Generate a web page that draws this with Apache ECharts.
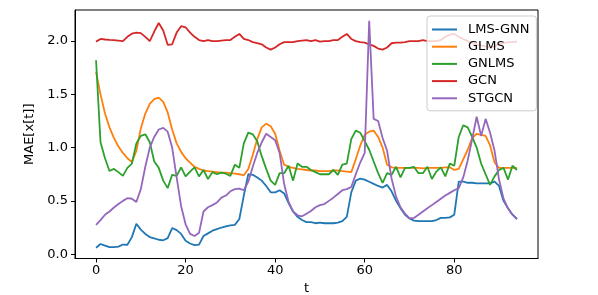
<!DOCTYPE html>
<html>
<head>
<meta charset="utf-8">
<script src="https://cdn.jsdelivr.net/npm/echarts@6/dist/echarts.min.js"></script>
<style>
html,body{margin:0;padding:0;background:#fff;}
#chart{width:598px;height:295px;}
</style>
</head>
<body>
<div id="chart"></div>
<script>
const seriesNames = ['LMS-GNN', 'GLMS', 'GNLMS', 'GCN', 'STGCN'];
const xTicks = [0, 20, 40, 60, 80];
const yTicks = [0, 0.5, 1.0, 1.5, 2.0];

const lmsGnn = [0.06,0.095,0.08,0.065,0.065,0.07,0.09,0.088,0.16,0.285,
 0.23,0.19,0.16,0.147,0.135,0.13,0.15,0.245,0.225,0.19,
 0.125,0.10,0.085,0.09,0.17,0.195,0.22,0.235,0.25,0.26,
 0.27,0.275,0.33,0.55,0.75,0.745,0.72,0.69,0.64,0.58,
 0.58,0.60,0.57,0.48,0.40,0.35,0.32,0.30,0.30,0.29,
 0.295,0.29,0.29,0.29,0.295,0.31,0.35,0.58,0.69,0.71,
 0.70,0.68,0.66,0.64,0.625,0.65,0.59,0.50,0.43,0.37,
 0.335,0.315,0.31,0.31,0.31,0.31,0.32,0.34,0.34,0.345,
 0.37,0.68,0.68,0.67,0.67,0.665,0.665,0.665,0.665,0.68,
 0.64,0.50,0.43,0.37,0.33];

const glms = [1.71,1.50,1.32,1.19,1.09,1.01,0.95,0.90,0.865,0.97,
 1.18,1.32,1.41,1.455,1.47,1.43,1.33,1.17,1.04,0.96,
 0.90,0.86,0.82,0.80,0.785,0.78,0.775,0.77,0.765,0.765,
 0.76,0.755,0.75,0.74,0.80,0.93,1.08,1.19,1.225,1.20,
 1.13,0.97,0.84,0.82,0.81,0.80,0.795,0.79,0.785,0.785,
 0.78,0.78,0.78,0.785,0.785,0.78,0.775,0.77,0.89,1.02,
 1.12,1.15,1.16,1.10,1.0,0.84,0.815,0.81,0.81,0.81,
 0.81,0.81,0.81,0.805,0.81,0.81,0.81,0.81,0.815,0.815,
 0.79,0.80,0.89,0.98,1.09,1.13,1.12,1.11,1.02,0.86,
 0.81,0.81,0.81,0.81,0.81];

const gnlms = [1.82,1.05,0.90,0.78,0.80,0.77,0.735,0.81,0.85,1.04,
 1.11,1.125,1.05,0.87,0.81,0.69,0.62,0.745,0.735,0.815,
 0.73,0.775,0.815,0.73,0.79,0.705,0.77,0.75,0.765,0.755,
 0.735,0.84,0.81,1.04,1.14,1.125,1.06,0.92,0.80,0.69,
 0.65,0.76,0.76,0.83,0.69,0.85,0.82,0.82,0.79,0.77,
 0.75,0.75,0.75,0.79,0.745,0.84,0.85,1.08,1.16,1.14,
 1.06,0.98,0.87,0.76,0.67,0.76,0.745,0.82,0.72,0.81,
 0.81,0.82,0.76,0.76,0.82,0.705,0.775,0.815,0.73,0.85,
 0.83,1.10,1.21,1.19,1.10,1.0,0.85,0.75,0.65,0.73,
 0.79,0.81,0.70,0.83,0.79];

const gcn = [1.995,2.02,2.015,2.012,2.01,2.005,2.0,2.04,2.07,2.08,
 2.075,2.04,2.0,2.09,2.17,2.1,1.965,1.97,2.08,2.14,
 2.13,2.08,2.04,2.01,2.0,2.01,2.0,2.0,2.005,2.01,
 2.01,2.04,2.067,2.02,2.01,1.99,1.98,1.97,1.94,1.92,
 1.94,1.97,1.99,1.99,1.99,2.0,2.005,2.01,2.0,2.01,
 1.995,2.0,2.0,2.01,2.01,2.04,2.067,2.02,2.0,1.99,
 1.985,1.97,1.955,1.93,1.92,1.94,1.98,1.985,1.985,1.99,
 2.0,2.0,2.0,2.01,2.0,2.0,2.0,2.01,2.04,2.06,
 2.067,2.04,2.02,2.0,1.98,1.97,1.96,1.95,1.94,1.95,
 1.97,1.98,1.99,1.99,1.995];

const stgcn = [0.275,0.32,0.37,0.40,0.4375,0.47,0.50,0.525,0.52,0.49,
 0.61,0.82,1.0,1.10,1.17,1.185,1.15,1.0,0.72,0.45,
 0.28,0.19,0.17,0.20,0.40,0.44,0.46,0.485,0.53,0.55,
 0.59,0.61,0.615,0.60,0.68,0.82,0.95,1.05,1.13,1.10,
 1.07,0.95,0.66,0.49,0.40,0.365,0.355,0.38,0.405,0.44,
 0.46,0.47,0.50,0.53,0.565,0.60,0.61,0.63,0.75,0.86,
 0.95,2.19,1.27,1.25,1.09,0.97,0.71,0.54,0.44,0.38,
 0.335,0.34,0.37,0.40,0.43,0.46,0.49,0.52,0.55,0.575,
 0.60,0.62,0.72,0.88,1.08,1.29,1.11,1.27,1.14,0.97,
 0.70,0.52,0.43,0.37,0.33];

const colors = ['#1f77b4', '#ff7f0e', '#2ca02c', '#d62728', '#9467bd'];
const allData = [lmsGnn, glms, gnlms, gcn, stgcn];

const chart = echarts.init(document.getElementById('chart'), null, {renderer: 'canvas'});
const FONT = 'DejaVu Sans';

const option = {
  animation: false,
  textStyle: {fontFamily: FONT},
  grid: {left: 75, top: 10, width: 463, height: 248.5, show: true, borderColor: '#000', borderWidth: 1,
    backgroundColor: 'transparent', outerBoundsMode: 'none', containLabel: false},
  legend: {
    z: 20,
    orient: 'vertical',
    left: 427, top: 16,
    padding: [7, 7, 6, 5],
    itemWidth: 25, itemHeight: 2, itemGap: 4.2,
    icon: 'rect',
    backgroundColor: 'rgba(255,255,255,0.8)',
    borderColor: '#cccccc', borderWidth: 1, borderRadius: 3,
    textStyle: {fontFamily: FONT, fontSize: 13, color: '#000', padding: [0, 0, 0, 6]},
    data: seriesNames
  },
  xAxis: {
    type: 'value', min: -4.7, max: 98.7,
    name: 't', nameLocation: 'middle', nameGap: 21,
    nameTextStyle: {fontFamily: FONT, fontSize: 13, color: '#000'},
    axisLine: {show: true, onZero: false, lineStyle: {color: '#000', width: 1}},
    axisTick: {show: true, length: 4, lineStyle: {color: '#000'}, customValues: xTicks},
    axisLabel: {fontFamily: FONT, fontSize: 13, color: '#000', margin: 6, customValues: xTicks},
    splitLine: {show: false}
  },
  yAxis: {
    type: 'value', min: -0.041, max: 2.292,
    name: 'MAE[x[t]]', nameLocation: 'middle', nameGap: 38, nameRotate: 90,
    nameTextStyle: {fontFamily: FONT, fontSize: 13, color: '#000'},
    axisLine: {show: true, onZero: false, lineStyle: {color: '#000', width: 1}},
    axisTick: {show: true, length: 4, lineStyle: {color: '#000'}, customValues: yTicks},
    axisLabel: {fontFamily: FONT, fontSize: 13, color: '#000', margin: 7, customValues: yTicks,
      formatter: v => v.toFixed(1)},
    splitLine: {show: false}
  },
  series: seriesNames.map((name, i) => ({
    name: name,
    type: 'line',
    symbol: 'none',
    color: colors[i],
    lineStyle: {width: 1.8, color: colors[i]},
    data: allData[i].map((v, t) => [t, v]),
    z: 2
  }))
};
chart.setOption(option);
</script>
</body>
</html>
